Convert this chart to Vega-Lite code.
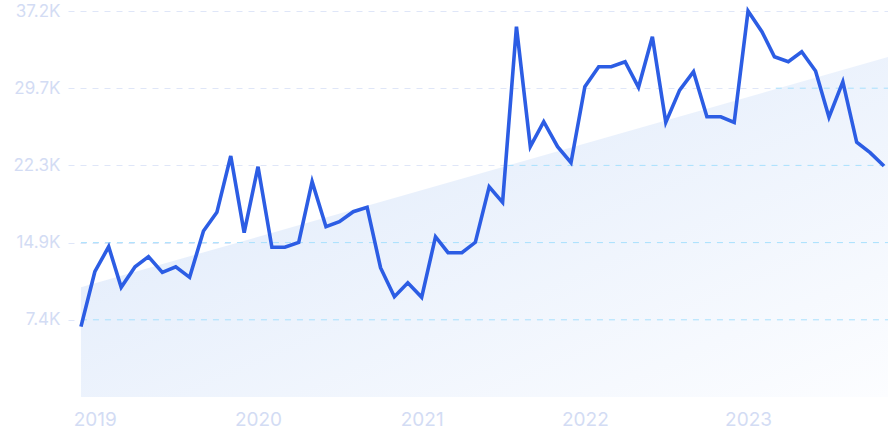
{
  "$schema": "https://vega.github.io/schema/vega-lite/v6.json",
  "width": 820,
  "height": 386,
  "autosize": {"type": "none"},
  "padding": {"left": 68, "top": 11, "right": 0, "bottom": 46},
  "background": "white",
  "config": {"view": {"stroke": null}, "font": "Inter"},
  "datasets": {
    "series": [
      {"date": "2018-12-01", "value": 6770},
      {"date": "2019-01-01", "value": 12060},
      {"date": "2019-02-01", "value": 14470},
      {"date": "2019-03-01", "value": 10560},
      {"date": "2019-04-01", "value": 12540},
      {"date": "2019-05-01", "value": 13510},
      {"date": "2019-06-01", "value": 12000},
      {"date": "2019-07-01", "value": 12540},
      {"date": "2019-08-01", "value": 11520},
      {"date": "2019-09-01", "value": 15980},
      {"date": "2019-10-01", "value": 17780},
      {"date": "2019-11-01", "value": 23200},
      {"date": "2019-12-01", "value": 15820},
      {"date": "2020-01-01", "value": 22170},
      {"date": "2020-02-01", "value": 14410},
      {"date": "2020-03-01", "value": 14410},
      {"date": "2020-04-01", "value": 14890},
      {"date": "2020-05-01", "value": 20730},
      {"date": "2020-06-01", "value": 16390},
      {"date": "2020-07-01", "value": 16880},
      {"date": "2020-08-01", "value": 17840},
      {"date": "2020-09-01", "value": 18260},
      {"date": "2020-10-01", "value": 12450},
      {"date": "2020-11-01", "value": 9660},
      {"date": "2020-12-01", "value": 11000},
      {"date": "2021-01-01", "value": 9600},
      {"date": "2021-02-01", "value": 15430},
      {"date": "2021-03-01", "value": 13890},
      {"date": "2021-04-01", "value": 13890},
      {"date": "2021-05-01", "value": 14890},
      {"date": "2021-06-01", "value": 20240},
      {"date": "2021-07-01", "value": 18740},
      {"date": "2021-08-01", "value": 35650},
      {"date": "2021-09-01", "value": 24100},
      {"date": "2021-10-01", "value": 26500},
      {"date": "2021-11-01", "value": 24100},
      {"date": "2021-12-01", "value": 22550},
      {"date": "2022-01-01", "value": 29870},
      {"date": "2022-02-01", "value": 31800},
      {"date": "2022-03-01", "value": 31800},
      {"date": "2022-04-01", "value": 32280},
      {"date": "2022-05-01", "value": 29810},
      {"date": "2022-06-01", "value": 34680},
      {"date": "2022-07-01", "value": 26440},
      {"date": "2022-08-01", "value": 29550},
      {"date": "2022-09-01", "value": 31320},
      {"date": "2022-10-01", "value": 26980},
      {"date": "2022-11-01", "value": 26980},
      {"date": "2022-12-01", "value": 26440},
      {"date": "2023-01-01", "value": 37160},
      {"date": "2023-02-01", "value": 35170},
      {"date": "2023-03-01", "value": 32760},
      {"date": "2023-04-01", "value": 32280},
      {"date": "2023-05-01", "value": 33240},
      {"date": "2023-06-01", "value": 31380},
      {"date": "2023-07-01", "value": 26930},
      {"date": "2023-08-01", "value": 30350},
      {"date": "2023-09-01", "value": 24520},
      {"date": "2023-10-01", "value": 23520},
      {"date": "2023-11-01", "value": 22240}
    ],
    "trend": [
      {"date": "2018-12-01", "value": 10560},
      {"date": "2023-11-10", "value": 32720}
    ],
    "grid": [
      {"value": 7432, "start": "2018-12-01", "end": "2023-11-10"},
      {"value": 14864, "start": "2018-12-01", "end": "2023-11-10"},
      {"value": 22296, "start": "2021-07-12", "end": "2023-11-10"},
      {"value": 29728, "start": "2023-03-04", "end": "2023-11-10"}
    ]
  },
  "layer": [
    {
      "data": {"name": "trend"},
      "mark": {
        "type": "area",
        "color": {
          "gradient": "linear",
          "x1": 0, "y1": 0, "x2": 1, "y2": 1,
          "stops": [
            {"offset": 0, "color": "#dce8fa"},
            {"offset": 1, "color": "#fcfdff"}
          ]
        }
      },
      "encoding": {
        "x": {
          "field": "date",
          "type": "temporal",
          "scale": {
            "type": "utc",
            "domain": [
              {"year": 2018, "month": 11, "date": 2, "utc": true},
              {"year": 2023, "month": 11, "date": 10, "utc": true}
            ]
          },
          "axis": {
            "values": [
              {"year": 2019, "month": 1, "date": 1, "utc": true},
              {"year": 2020, "month": 1, "date": 1, "utc": true},
              {"year": 2021, "month": 1, "date": 1, "utc": true},
              {"year": 2022, "month": 1, "date": 1, "utc": true},
              {"year": 2023, "month": 1, "date": 1, "utc": true}
            ],
            "format": "%Y",
            "domain": false,
            "ticks": false,
            "grid": false,
            "labelFontSize": 19,
            "labelColor": "#d3dcf4",
            "labelPadding": 13,
            "title": null
          }
        },
        "y": {
          "field": "value",
          "type": "quantitative",
          "scale": {"domain": [0, 37160], "nice": false, "zero": true},
          "axis": {
            "values": [7432, 14864, 22296, 29728, 37160],
            "labelExpr": "format(datum.value/1000,'.1f')+'K'",
            "domain": false,
            "ticks": false,
            "grid": true,
            "gridColor": "#dfe6f8",
            "gridDash": [6, 6],
            "gridWidth": 1,
            "labelColor": "#d3dcf4",
            "labelFontSize": 17,
            "labelPadding": 8,
            "title": null
          }
        }
      }
    },
    {
      "data": {"name": "grid"},
      "mark": {"type": "rule", "color": "#a8e0fd", "strokeDash": [6, 6], "strokeWidth": 1},
      "encoding": {
        "x": {"field": "start", "type": "temporal"},
        "x2": {"field": "end"},
        "y": {"field": "value", "type": "quantitative"}
      }
    },
    {
      "data": {"name": "series"},
      "mark": {"type": "line", "color": "#2c5de4", "strokeWidth": 3.6},
      "encoding": {
        "x": {"field": "date", "type": "temporal"},
        "y": {"field": "value", "type": "quantitative"}
      }
    }
  ]
}
